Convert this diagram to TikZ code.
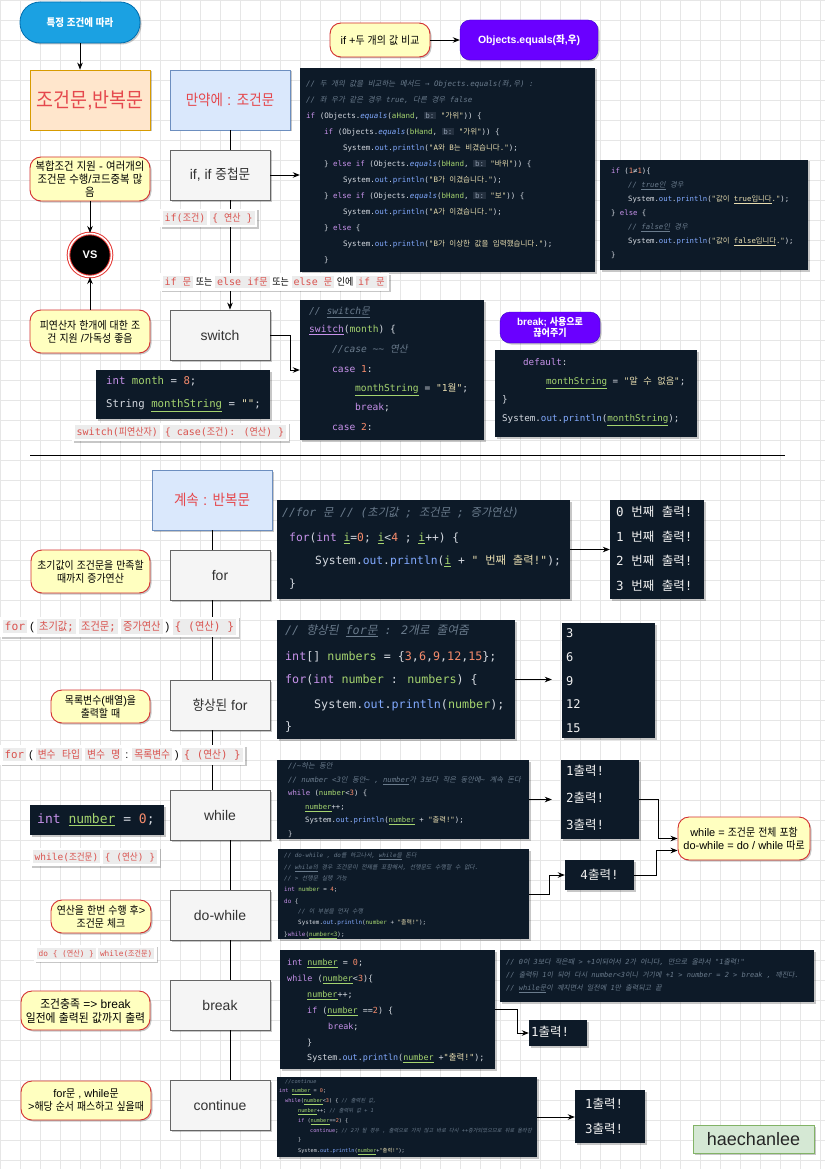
\documentclass[tikz,border=0pt]{standalone}
\usepackage{fontspec}
\setmainfont{Liberation Sans}
\newfontfamily\krfont{Noto Sans CJK KR}[FakeStretch=0.9,AutoFakeSlant=0.2]
\newfontfamily\krcode{Noto Sans CJK KR}[AutoFakeSlant=0.2]
\newfontfamily\codefont{DejaVu Sans Mono}
\usetikzlibrary{arrows.meta,shadows,calc}

% ---- automatic Korean font switching ----
\makeatletter
\ifdefined\newXeTeXintercharclass \newXeTeXintercharclass\hangulclass \else \chardef\hangulclass=7 \fi
\count@="AC00
\loop\ifnum\count@<"D7A4 \XeTeXcharclass\count@=\hangulclass \advance\count@\@ne\repeat
\count@="3131
\loop\ifnum\count@<"318F \XeTeXcharclass\count@=\hangulclass \advance\count@\@ne\repeat
\let\kfam\krfont
\def\kprevfam{\f@family}
\def\kon{\edef\kprevfam{\f@family}\kfam}
\def\koff{\fontfamily{\kprevfam}\selectfont}
\XeTeXinterchartoks 0 \hangulclass = {\kon}
\XeTeXinterchartoks 4095 \hangulclass = {\kon}
\XeTeXinterchartoks \hangulclass 0 = {\koff}
\XeTeXinterchartoks \hangulclass 4095 = {\koff}
\makeatother
\XeTeXinterchartokenstate=1

% ---- colours ----
\definecolor{cpill}{HTML}{1BA1E2}
\definecolor{cpilld}{HTML}{006EAF}
\definecolor{corgf}{HTML}{FFE6CC}
\definecolor{corg}{HTML}{D79B00}
\definecolor{cbluef}{HTML}{DAE8FC}
\definecolor{cblue}{HTML}{6C8EBF}
\definecolor{ctitle}{HTML}{E5484D}
\definecolor{cyel}{HTML}{FFFFC0}
\definecolor{cred}{HTML}{D32F2F}
\definecolor{cpur}{HTML}{6A00FF}
\definecolor{cpurd}{HTML}{3700CC}
\definecolor{cgf}{HTML}{F5F5F5}
\definecolor{cgd}{HTML}{666666}
\definecolor{cgt}{HTML}{333333}
\definecolor{cgreenf}{HTML}{D5E8D4}
\definecolor{cgreend}{HTML}{82B366}
\definecolor{codebg}{HTML}{0D1A28}
\definecolor{cpl}{HTML}{D4D9E0}
\definecolor{ckw}{HTML}{C792EA}
\definecolor{cmt}{HTML}{82AAFF}
\definecolor{cst}{HTML}{E8DDB0}
\definecolor{cnm}{HTML}{F78C6C}
\definecolor{cvr}{HTML}{A5D46F}
\definecolor{ccm}{HTML}{6A7B8C}
\definecolor{chint}{HTML}{24303F}
\definecolor{chinttx}{HTML}{8E9BAD}
\definecolor{chipbg}{HTML}{ECECEC}
\definecolor{chiptx}{HTML}{D9534F}
\definecolor{cgrid}{HTML}{E6E6E6}
\definecolor{cout}{HTML}{F0F0F0}
\definecolor{cvsred}{HTML}{E53935}

% ---- code helpers ----
\newcommand\Kw[1]{\textcolor{ckw}{#1}}
\newcommand\Mt[1]{\textcolor{cmt}{#1}}
\newcommand\St[1]{\textcolor{cst}{#1}}
\newcommand\Nm[1]{\textcolor{cnm}{#1}}
\newcommand\Vr[1]{\textcolor{cvr}{#1}}
\newcommand\Vu[1]{\textcolor{cvr}{\underline{#1}}}
\newcommand\Cm[1]{\textcolor{ccm}{\itshape #1}}
\newcommand\Hint[1]{{\setlength{\fboxsep}{0.6pt}\colorbox{chint}{\textcolor{chinttx}{\,#1\,}}}}
\newcommand\Chip[1]{{\setlength{\fboxsep}{2pt}\colorbox{chipbg}{\textcolor{chiptx}{\codefont #1}}}}
\newcount\clnum
\newcommand\setcf[1]{\def\cfs{#1}\pgfmathsetmacro\cfh{0.82*#1}\pgfmathsetmacro\cfd{0.22*#1}}
\newcommand\CL[3]{\global\advance\clnum by 1\relax\edef\tmpnm{cl\the\clnum}\expandafter\CLi\expandafter{\tmpnm}{#1}{#2}{#3}}
\newcommand\CLi[4]{\node[cline] (#1) at (#2,#3) {#4};}
\newcommand\clipto[1]{\clip (#1.north west) rectangle (#1.south east);}

\tikzset{
 shadowed/.style={drop shadow={shadow xshift=1.5pt,shadow yshift=-1.5pt,opacity=0.22,fill=black}},
 pill/.style={draw=cpilld, fill=cpill, rounded corners=20pt, minimum width=120, minimum height=41, text=white, font=\bfseries\fontsize{10.5}{12}\selectfont, shadowed, line width=0.8},
 orgbox/.style={draw=corg, fill=corgf, minimum width=120, minimum height=60, text=ctitle, font=\fontsize{20.5}{24}\selectfont, shadowed, line width=0.8},
 bluebox/.style={draw=cblue, fill=cbluef, minimum width=120, minimum height=60, text=ctitle, font=\fontsize{15}{18}\selectfont, shadowed, line width=0.8},
 gbox/.style={draw=cgd, fill=cgf, minimum width=100, minimum height=50, text=cgt, font=\fontsize{14}{17}\selectfont, shadowed, line width=0.8},
 ycall/.style={draw=cred, fill=cyel, rounded corners=11pt, line width=0.9, align=center, inner sep=1pt, font=\fontsize{11}{13}\selectfont, shadowed},
 purp/.style={draw=cpurd, fill=cpur, rounded corners=10pt, text=white, align=center, inner sep=1pt, font=\bfseries\fontsize{10.5}{12}\selectfont, shadowed},
 vsnode/.style={circle, fill=black, draw=cvsred, line width=1, double=white, double distance=1.6, minimum size=43, text=white, font=\bfseries\fontsize{11}{13}\selectfont},
 codebox/.style={fill=codebg, draw=none, inner sep=0pt, shadowed},
 cline/.style={anchor=west, inner sep=0pt, text=cpl, font={\let\kfam\krcode\codefont\fontsize{\cfs}{\cfs}\selectfont}, text height=\cfh pt, text depth=\cfd pt},
 lab/.style={fill=white, inner sep=2.5pt, anchor=west, font=\fontsize{10}{12}\selectfont, shadowed},
 arr/.style={-{Stealth[length=7pt,width=5.5pt]}, line width=0.9},
 ln/.style={line width=0.9},
}

\begin{document}
\begin{tikzpicture}[x=1pt,y=-1pt]
\useasboundingbox (0,0) rectangle (825,1169);
\fill[white] (0,0) rectangle (825,1169);
\foreach \gx in {0,20,...,820} \draw[cgrid, line width=0.5] (\gx,0) -- (\gx,1169);
\foreach \gy in {0,20,...,1160} \draw[cgrid, line width=0.5] (0,\gy) -- (825,\gy);
\draw[line width=0.8] (30,455) -- (785,455);

% ================= TOP: conditionals =================
\node[pill] (pill) at (80,22.5) {특정 조건에 따라};
\node[orgbox] (title) at (90,100) {조건문,반복문};
\node[bluebox] (ifmain) at (230,100) {만약에 : 조건문};
\node[ycall, minimum width=100, minimum height=34] (cif) at (380,40) {if +두 개의 값 비교};
\node[purp, minimum width=138, minimum height=40] (obj) at (529,40) {Objects.equals(좌,우)};
\node[gbox] (ifbox) at (220,175) {if, if 중첩문};
\node[gbox] (sw) at (220,335) {switch};
\node[ycall, minimum width=120, minimum height=44, font=\fontsize{11.5}{13}\selectfont] (cmulti) at (90,179) {복합조건 지원 - 여러개의\\조건문 수행/코드중복 많\\음};
\node[vsnode] (vs) at (90,255) {VS};
\node[ycall, minimum width=120, minimum height=43] (csingle) at (90,331.5) {피연산자 한개에 대한 조\\건 지원 /가독성 좋음};

\node[codebox, minimum width=295, minimum height=204] (code1) at (447.5,170) {};
\node[codebox, minimum width=208, minimum height=110] (code2) at (704,215) {};
\node[codebox, minimum width=184, minimum height=140] (code3) at (392,370) {};
\node[codebox, minimum width=174, minimum height=49] (code4) at (183,394.5) {};
\node[codebox, minimum width=202, minimum height=87] (code5) at (596,393.5) {};
\node[purp, minimum width=100, minimum height=31, font=\bfseries\fontsize{10}{11.5}\selectfont] (brkcall) at (550,327.5) {break; 사용으로\\끊어주기};

% ================= BOTTOM: loops =================
\node[bluebox] (loop) at (212,500) {계속 : 반복문};
\node[gbox] (forb) at (220,575) {for};
\node[ycall, minimum width=119, minimum height=43] (cfor) at (90.5,571.5) {초기값이 조건문을 만족할\\때까지 증가연산};
\node[codebox, minimum width=293, minimum height=99] (code6) at (423.5,549.5) {};
\node[codebox, minimum width=94, minimum height=99] (out1) at (657,549.5) {};
\node[gbox] (efor) at (220,705) {향상된 for};
\node[ycall, minimum width=99, minimum height=33] (cefor) at (100.5,706.5) {목록변수(배열)을\\출력할 때};
\node[codebox, minimum width=238, minimum height=119] (code7) at (396,679.5) {};
\node[codebox, minimum width=93, minimum height=115] (out2) at (608.5,680.5) {};
\node[gbox] (wh) at (220,815) {while};
\node[codebox, minimum width=134, minimum height=30] (intn) at (97,820) {};
\node[codebox, minimum width=252, minimum height=79] (code8) at (403,799.5) {};
\node[codebox, minimum width=78, minimum height=79] (out3) at (600,799.5) {};
\node[ycall, minimum width=132, minimum height=43] (cwh) at (744,838.5) {while = 조건문 전체 포함\\do-while = do / while 따로};
\node[codebox, minimum width=251, minimum height=90] (code9) at (403.5,894) {};
\node[codebox, minimum width=69, minimum height=30, text=cout, font={\let\kfam\krcode\codefont\fontsize{12.5}{14}\selectfont}] (out4) at (599.5,875) {4출력!};
\node[gbox] (dw) at (220,915) {do-while};
\node[ycall, minimum width=100, minimum height=33] (cdw) at (101,916.5) {연산을 한번 수행 후>\\조건문 체크};
\node[codebox, minimum width=215, minimum height=119] (code10) at (387.5,1009.5) {};
\node[codebox, minimum width=314, minimum height=52] (code11) at (657,976) {};
\node[codebox, minimum width=58, minimum height=26] (out5) at (558,1033) {};
\node[gbox] (brk) at (220,1005) {break};
\node[ycall, minimum width=129, minimum height=39, font=\fontsize{12}{14}\selectfont] (cbrk) at (85.5,1010.5) {조건충족 => break\\일전에 출력된 값까지 출력};
\node[gbox] (cont) at (220,1105) {continue};
\node[ycall, minimum width=130, minimum height=39] (ccont) at (86,1100.5) {for문 , while문\\>해당 순서 패스하고 싶을때};
\node[codebox, minimum width=260, minimum height=80] (code12) at (407,1117) {};
\node[codebox, minimum width=70, minimum height=53] (out6) at (610,1116.5) {};
\node[draw=cgreend, fill=cgreenf, minimum width=121, minimum height=28, font=\fontsize{18}{20}\selectfont, text=black!85, shadowed, line width=0.8] (hl) at (753.5,1139) {haechanlee};

% ================= connectors =================
\draw[arr] (pill.south) -- (pill.south |- title.north);
\draw[arr] (cif.east) -- (obj.west);
\draw[ln] (ifmain.south) -- (ifmain.south |- ifbox.north);
\draw[arr] (ifmain.south |- ifbox.south) -- (ifmain.south |- sw.north);
\draw[arr] (ifbox.east) -- (ifbox.east -| code1.west);
\draw[arr] (sw.east) -- ++(20,0) |- (code3.west);
\draw[arr] (cmulti.south) -- (vs.north);
\draw[arr] (csingle.north) -- (vs.south);

\draw[ln] (loop.south) -- (loop.south |- forb.north);
\draw[ln] (loop.south |- forb.south) -- (loop.south |- efor.north);
\draw[ln] (loop.south |- efor.south) -- (loop.south |- wh.north);
\coordinate (lx) at ($(wh.south)+(10,0)$);
\draw[ln] (lx) -- (lx |- dw.north);
\draw[ln] (lx |- dw.south) -- (lx |- brk.north);
\draw[ln] (lx |- brk.south) -- (lx |- cont.north);

\draw[arr] (code6.east) -- (out1.west);
\draw[arr, shorten >=10pt] (code7.east) -- (code7.east -| out2.west);
\draw[arr, shorten >=9pt] (code8.east) -- (out3.west);
\draw[arr] (out3.east) -- ++(19,0) |- (cwh.west);
\draw[arr] (out4.east) -- ++(22,0) |- ($(cwh.west)+(0,12)$);
\draw[arr] (code9.east) -- ++(20,0) |- (out4.west);
\draw[arr] (code10.east) -- ++(22,0) |- (out5.west);
\draw[arr] (code12.east) -- (code12.east -| out6.west);

% ================= inline labels =================
\node[lab] (lab1) at (160,218) {\Chip{if(조건)} \Chip{\{ 연산 \}}};
\node[lab] (lab2) at (160,282) {\Chip{if 문} 또는 \Chip{else if문} 또는 \Chip{else 문} 인에 \Chip{if 문}};
\node[lab] (lab3) at (72,432) {\Chip{switch(피연산자)} \Chip{\{ case(조건): (연산) \}}};
\node[lab, font=\fontsize{11.3}{13}\selectfont] (lab4) at (0,627) {\Chip{for} ( \Chip{초기값;} \Chip{조건문;} \Chip{증가연산} ) \Chip{\{ (연산) \}}};
\node[lab, font=\fontsize{10.8}{12}\selectfont] (lab5) at (0,755) {\Chip{for} ( \Chip{변수 타입} \Chip{변수 명} : \Chip{목록변수} ) \Chip{\{ (연산) \}}};
\node[lab, font=\fontsize{9.5}{11}\selectfont] (lab6) at (30,857) {\Chip{while(조건문)} \Chip{\{ (연산) \}}};
\node[lab, font=\fontsize{7.8}{9}\selectfont] (lab7) at (34,953.5) {\Chip{do \{ (연산) \}} \Chip{while(조건문)}};

% ================= code texts =================
\begin{scope}\clipto{code1}\setcf{7.5}
\CL{306}{84}{\Cm{// 두 개의 값을 비교하는 메서드 → Objects.equals(좌,우) :}}
\CL{306}{100}{\Cm{// 좌 우가 같은 경우 true, 다른 경우 false}}
\CL{306}{116}{\Kw{if} (Objects.\Mt{\itshape equals}(\Vr{aHand}, \Hint{b:} \St{"가위"})) \{}
\CL{324}{132}{\Kw{if} (Objects.\Mt{\itshape equals}(\Vr{bHand}, \Hint{b:} \St{"가위"})) \{}
\CL{343}{148}{System.\Mt{out}.\Mt{println}(\St{"A와 B는 비겼습니다."});}
\CL{324}{164}{\} \Kw{else if} (Objects.\Mt{\itshape equals}(\Vr{bHand}, \Hint{b:} \St{"바위"})) \{}
\CL{343}{180}{System.\Mt{out}.\Mt{println}(\St{"B가 이겼습니다."});}
\CL{324}{196}{\} \Kw{else if} (Objects.\Mt{\itshape equals}(\Vr{bHand}, \Hint{b:} \St{"보"})) \{}
\CL{343}{212}{System.\Mt{out}.\Mt{println}(\St{"A가 이겼습니다."});}
\CL{324}{228}{\} \Kw{else} \{}
\CL{343}{244}{System.\Mt{out}.\Mt{println}(\St{"B가 이상한 값을 입력했습니다."});}
\CL{324}{260}{\}}
\end{scope}

\begin{scope}\clipto{code2}\setcf{7.3}
\CL{611}{171}{\Kw{if} (\Nm{1}≠\Nm{1})\{}
\CL{628}{185}{\Cm{// \underline{true인} 경우}}
\CL{628}{199}{System.\Mt{out}.\Mt{println}(\St{"값이 \underline{true입니다}."});}
\CL{611}{213}{\} \Kw{else} \{}
\CL{628}{227}{\Cm{// \underline{false인} 경우}}
\CL{628}{241}{System.\Mt{out}.\Mt{println}(\St{"값이 \underline{false입니다}."});}
\CL{611}{255}{\}}
\end{scope}

\begin{scope}\clipto{code3}\setcf{9.6}
\CL{309}{312}{\Cm{// \underline{switch문}}}
\CL{309}{330}{\Kw{\underline{switch}}(\Vr{month}) \{}
\CL{332}{350}{\Cm{//case \textasciitilde\textasciitilde{} 연산}}
\CL{332}{370}{\Kw{case} \Nm{1}:}
\CL{355}{389}{\Vu{monthString} = \St{"1월"};}
\CL{355}{408}{\Kw{break};}
\CL{332}{428}{\Kw{case} \Nm{2}:}
\end{scope}

\begin{scope}\clipto{code4}\setcf{10.7}
\CL{106}{381}{\Kw{int} \Vr{month} = \Nm{8};}
\CL{106}{404}{String \Vu{monthString} = \St{""};}
\end{scope}

\begin{scope}\clipto{code5}\setcf{9.2}
\CL{523}{363}{\Kw{default}:}
\CL{546}{382}{\Vu{monthString} = \St{"알 수 없음"};}
\CL{502}{400}{\}}
\CL{502}{419}{System.\Mt{out}.\Mt{println}(\Vu{monthString});}
\end{scope}

\begin{scope}\clipto{code6}\setcf{11.3}
\CL{282}{513}{\Cm{//for 문 // (초기값 ; 조건문 ; 증가연산)}}
\CL{289}{538}{\Kw{for}(\Kw{int} \Vu{i}=\Nm{0}; \Vu{i}<\Nm{4} ; \Vu{i}++) \{}
\CL{315}{561}{System.\Mt{out}.\Mt{println}(\Vu{i} + \St{" 번째 출력!"});}
\CL{289}{584}{\}}
\end{scope}

\setcf{12.5}
\CL{616}{513}{\textcolor{cout}{0 번째 출력!}}
\CL{616}{538}{\textcolor{cout}{1 번째 출력!}}
\CL{616}{562}{\textcolor{cout}{2 번째 출력!}}
\CL{616}{587}{\textcolor{cout}{3 번째 출력!}}

\begin{scope}\clipto{code7}\setcf{11.7}
\CL{285}{631}{\Cm{// 향상된 \underline{for문} : 2개로 줄여줌}}
\CL{285}{657}{\Kw{int}[] \Vr{numbers} = \{\Nm{3},\Nm{6},\Nm{9},\Nm{12},\Nm{15}\};}
\CL{285}{680}{\Kw{for}(\Kw{int} \Vr{number} : \Vr{numbers}) \{}
\CL{314}{705}{System.\Mt{out}.\Mt{println}(\Vr{number});}
\CL{285}{727}{\}}
\end{scope}

\setcf{12}
\CL{566}{634}{\textcolor{cout}{3}}
\CL{566}{658}{\textcolor{cout}{6}}
\CL{566}{682}{\textcolor{cout}{9}}
\CL{566}{705}{\textcolor{cout}{12}}
\CL{566}{729}{\textcolor{cout}{15}}

\begin{scope}\clipto{code8}\setcf{7.3}
\CL{288}{766}{\Cm{//\textasciitilde 하는 동안}}
\CL{288}{780}{\Cm{// number <3인 동안\textasciitilde{} , \underline{number}가 3보다 작은 동안에\textasciitilde{} 계속 돈다}}
\CL{288}{793}{\Kw{while} (\Vr{number}<\Nm{3}) \{}
\CL{305}{807}{\Vu{number}++;}
\CL{305}{820}{System.\Mt{out}.\Mt{println}(\Vu{number} + \St{"출력!"});}
\CL{288}{834}{\}}
\end{scope}

\setcf{12.5}
\CL{566}{772}{\textcolor{cout}{1출력!}}
\CL{566}{799}{\textcolor{cout}{2출력!}}
\CL{566}{826}{\textcolor{cout}{3출력!}}

\begin{scope}\clipto{intn}\setcf{13}
\CL{37}{820}{\Kw{int} \Vu{number} = \Nm{0};}
\end{scope}

\begin{scope}\clipto{code9}\setcf{5.9}
\CL{284}{856}{\Cm{// do-while , do를 하고나서, \underline{while을} 돈다}}
\CL{284}{868}{\Cm{// \underline{while의} 경우 조건문이 전제를 포함해서, 선행문도 수행할 수 없다.}}
\CL{284}{879}{\Cm{// > 선행문 실행 가능}}
\CL{284}{890}{\Kw{int} \Vr{number} = \Nm{4};}
\CL{284}{902}{\Kw{do} \{}
\CL{298}{912}{\Cm{// 이 부분을 먼저 수행}}
\CL{298}{923}{System.\Mt{out}.\Mt{println}(\Vr{number} + \St{"출력!"});}
\CL{284}{935}{\}\Kw{while}(\Vu{number<3});}
\end{scope}

\begin{scope}\clipto{code10}\setcf{8.4}
\CL{287}{963}{\Kw{int} \Vu{number} = \Nm{0};}
\CL{287}{979}{\Kw{while} (\Vu{number}<\Nm{3})\{}
\CL{307}{995}{\Vu{number}++;}
\CL{307}{1011}{\Kw{if} (\Vu{number} ==\Nm{2}) \{}
\CL{328}{1027}{\Kw{break};}
\CL{307}{1043}{\}}
\CL{307}{1058}{System.\Mt{out}.\Mt{println}(\Vu{number} +\St{"출력!"});}
\end{scope}

\begin{scope}\clipto{code11}\setcf{7}
\CL{506}{962}{\Cm{// 0이 3보다 작은때 > +1이되어서 2가 아니다, 만으로 올라서 "1출력!"}}
\CL{506}{975}{\Cm{// 출력뒤 1이 되어 다시 number<3이니 거기에 +1 > number = 2 > break , 깨진다.}}
\CL{506}{988}{\Cm{// \underline{while문}이 깨지면서 일전에 1만 출력되고 끝}}
\end{scope}

\setcf{12.5}
\CL{531}{1033}{\textcolor{cout}{1출력!}}

\begin{scope}\clipto{code12}\setcf{5.2}
\CL{285}{1082}{\Cm{//continue}}
\CL{279}{1091}{\Kw{int} \Vu{number} = \Nm{0};}
\CL{285}{1101}{\Kw{while}(\Vu{number}<\Nm{3}) \{ \Cm{// 출력된 값,}}
\CL{298}{1111}{\Vu{number}++; \Cm{// 출력뒤 값 + 1}}
\CL{298}{1121}{\Kw{if} (\Vu{number}==\Nm{2}) \{}
\CL{310}{1131}{\Kw{continue}; \Cm{// 2가 될 경우 , 출력으로 가지 않고 바로 다시 ++증가되었으므로 위로 올라감}}
\CL{298}{1140}{\}}
\CL{298}{1151}{System.\Mt{out}.\Mt{println}(\Vu{number}+\St{"출력!"});}
\end{scope}

\setcf{12.5}
\CL{585}{1105}{\textcolor{cout}{1출력!}}
\CL{585}{1130}{\textcolor{cout}{3출력!}}

\end{tikzpicture}
\end{document}
